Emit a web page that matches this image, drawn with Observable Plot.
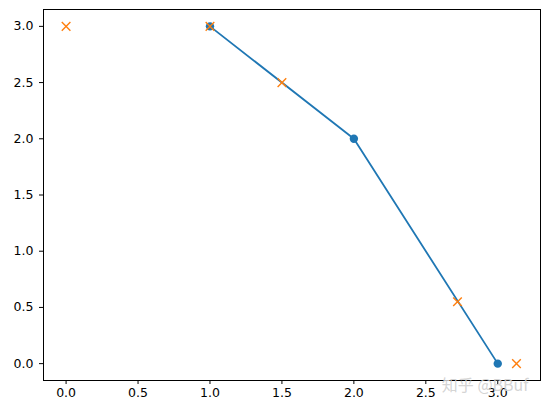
<!DOCTYPE html>
<html>
<head>
<meta charset="utf-8">
<script src="https://cdn.jsdelivr.net/npm/d3@7"></script>
<script src="https://cdn.jsdelivr.net/npm/@observablehq/plot@0.6"></script>
<style>
  html, body { margin: 0; padding: 0; background: #fff; }
  #chart { width: 547px; height: 412px; }
</style>
</head>
<body>
<div id="chart"></div>
<script>
// Blue line series (with circle markers)
const lineX = [1, 2, 3];
const lineY = [3, 2, 0];
// Orange cross markers
const crossX = [0, 1, 1.5, 2.72, 3.13];
const crossY = [3, 3, 2.5, 0.55, 0];
// Tick values
const xTicks = [0, 0.5, 1.0, 1.5, 2.0, 2.5, 3.0];
const yTicks = [0, 0.5, 1.0, 1.5, 2.0, 2.5, 3.0];
const watermark = ["知乎 @BBuf"];

const lineData = lineX.map((x, i) => ({x, y: lineY[i]}));
const crossData = crossX.map((x, i) => ({x, y: crossY[i]}));

const chart = Plot.plot({
  width: 547,
  height: 412,
  marginLeft: 43,
  marginRight: 7,
  marginTop: 9,
  marginBottom: 32,
  style: {fontFamily: "DejaVu Sans", fontSize: "12.5px", color: "#000", background: "#fff", overflow: "visible"},
  x: {domain: [-0.157, 3.297]},
  y: {domain: [-0.15, 3.15]},
  marks: [
    Plot.frame({stroke: "#000", strokeWidth: 1}),
    Plot.axisX({ticks: xTicks, tickFormat: d3.format(".1f"), tickSize: 4, tickPadding: 4, label: null, stroke: "#000"}),
    Plot.axisY({ticks: yTicks, tickFormat: d3.format(".1f"), tickSize: 4, tickPadding: 6, label: null, stroke: "#000"}),
    Plot.line(lineData, {x: "x", y: "y", stroke: "#1f77b4", strokeWidth: 1.8}),
    Plot.dot(lineData, {x: "x", y: "y", fill: "#1f77b4", r: 4.2, stroke: null}),
    Plot.dot(crossData, {x: "x", y: "y", symbol: "times", stroke: "#ff7f0e", strokeWidth: 1.4, r: 4}),
    Plot.text(watermark, {text: d => d, frameAnchor: "bottom-right", dx: -12, dy: 10, fontSize: 16, fill: "#cfcfcf", fillOpacity: 0.9, fontFamily: "Noto Sans CJK SC", textAnchor: "end"})
  ]
});
document.getElementById("chart").appendChild(chart);
</script>
</body>
</html>
